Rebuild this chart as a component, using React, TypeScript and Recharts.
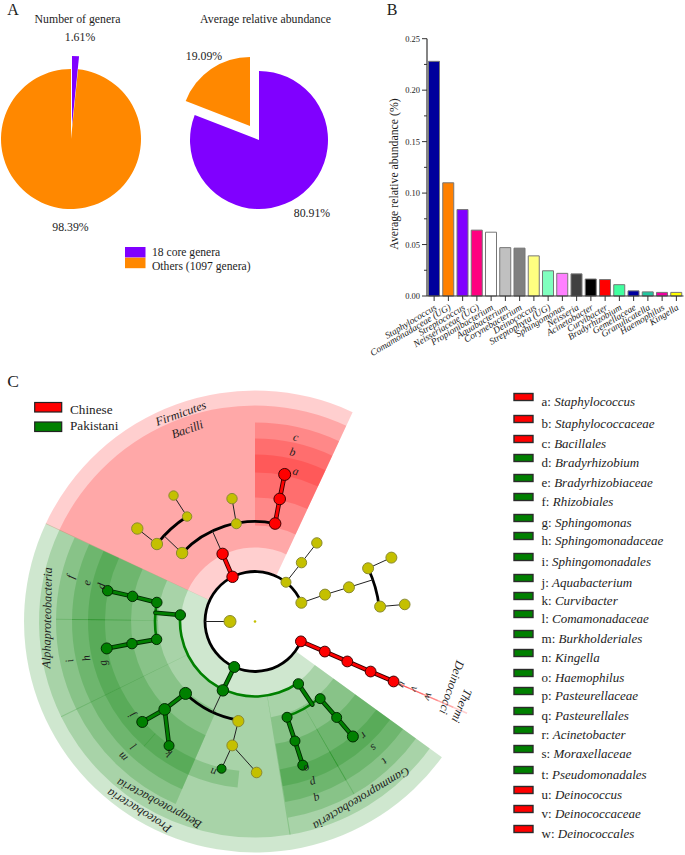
import React from "react";
import {
  BarChart, Bar, XAxis, YAxis, Cell, PieChart, Pie, ScatterChart, Scatter,
} from "recharts";

const W = 685;
const H = 855;
const SERIF = "'Liberation Serif', serif";
const INK = "#1d1d1d";

// ---------- Panel A ----------
const pieNames = ["18 core genera", "Others (1097 genera)"];
const pieColors = ["#8000ff", "#ff8800"];
const generaShare = [1.61, 98.39];
const abundanceShare = [80.91, 19.09];

// ---------- Panel B ----------
const genera = [
  "Staphylococcus", "Comamonadaceae (UG)", "Streptococcus", "Neisseriaceae (UG)",
  "Propionibacterium", "Aquabacterium", "Corynebacterium", "Deinococcus",
  "Streptophyta (UG)", "Sphingomonas", "Neisseria", "Acinetobacter", "Curvibacter",
  "Bradyrhizobium", "Gemellaceae", "Granulicatella", "Haemophilus", "Kingella",
];
const abundance = [
  0.228, 0.11, 0.084, 0.064, 0.062, 0.047, 0.0465, 0.039, 0.0245, 0.022, 0.0215,
  0.0165, 0.016, 0.011, 0.005, 0.004, 0.0035, 0.0035,
];
const barColors = [
  "#00009c", "#ff8000", "#8000ff", "#ff0080", "#ffffff", "#c0c0c0", "#808080", "#ffff80",
  "#80ffbf", "#ff80ff", "#404040", "#000000", "#ff0000", "#40ff9f", "#0000a0", "#20c8a0",
  "#f000a0", "#ffff00",
];
const yTicks = [0, 0.025, 0.05, 0.075, 0.1, 0.125, 0.15, 0.175, 0.2, 0.225, 0.25];
const yMajor = [0, 0.05, 0.1, 0.15, 0.2, 0.25];

// ---------- Panel C: shaded clades [startDeg, endDeg, innerR, outerR], clockwise from north ----------
const redClades = [
  [-65, 25, 51, 231], // Firmicutes
  [-65, 25, 74, 216], // Bacilli
  [0, 25, 96, 199], // Bacillales
  [0, 25, 124, 183], // Staphylococcaceae
  [0, 25, 149, 167], // Staphylococcus
  [113.2, 113.6, 151, 231], // Thermi
  [113.2, 113.6, 151, 216], // Deinococci
  [113.2, 113.6, 151, 199], // Deinococcales
  [113.2, 113.6, 151, 183], // Deinococcaceae
  [113.2, 113.6, 151, 167], // Deinococcus
];
const greenClades = [
  [126, 295.2, 51, 231], // Proteobacteria
  [243.7, 295, 74, 216], // Alphaproteobacteria
  [170.5, 244, 74, 216], // Betaproteobacteria
  [126, 170.8, 74, 216], // Gammaproteobacteria
  [270.5, 295, 97, 199], // Rhizobiales
  [270.5, 295, 124, 183], // Bradyrhizobiaceae
  [270.5, 295, 150, 167], // Bradyrhizobium
  [244, 270.8, 97, 199], // Sphingomonadales
  [244, 270.8, 124, 183], // Sphingomonadaceae
  [244, 270.8, 150, 167], // Sphingomonas
  [203.5, 244, 97, 199], // Burkholderiales
  [203.5, 244, 124, 183], // Comamonadaceae
  [221.5, 244, 150, 167], // Aquabacterium
  [203.5, 221.8, 150, 167], // Curvibacter
  [186, 203.5, 150, 167], // Kingella
  [150, 170.5, 97, 199], // Pasteurellales
  [150, 170.5, 124, 183], // Pasteurellaceae
  [150, 170.5, 150, 167], // Haemophilus
  [126, 150.3, 97, 199], // Pseudomonadales
  [126, 150.3, 124, 183], // Moraxellaceae
  [126, 150.3, 150, 167], // Acinetobacter
];
// arcs of the tree: [startDeg, endDeg, radius]
const blackArcs = [
  [113.4, 428, 50],
  [189.5, 224, 100],
  [313.2, 371.6, 100],
  [308.3, 327.1, 125],
  [64.8, 83.2, 125],
];
const greenArcs = [
  [145.2, 275, 75],
  [259.7, 281, 100],
  [139.8, 161.5, 100],
];
// tree nodes: [deg, radius, dotRadius]
const yellowNodes = [
  [349.2, 99.5, 5], [349.4, 125, 5.2], [313.2, 100, 5.7], [308.3, 125, 5.7], [327.1, 125, 4.7],
  [308.3, 150, 5.7], [327.1, 150, 4.7], [38.3, 50, 5], [38.3, 75, 5.2], [38.2, 100, 5.2],
  [68, 50, 5.5], [69, 75, 5.5], [70, 100, 5.5], [64.8, 125, 5.5], [83.2, 126, 5.5],
  [64.9, 150.6, 5.5], [83.5, 150.7, 5.3], [270, 25, 6], [0, 0, 1.3], [189.5, 101, 5.6],
  [190.4, 126, 5.4], [179.4, 151, 5.3],
];
const redNodes = [
  [333.3, 50, 5.7], [334.4, 75, 5.7], [11.6, 100, 5.8], [11.4, 125, 5.8], [11.4, 150, 6],
  [113.4, 50, 5.4], [113.3, 76, 5.4], [113.4, 100.6, 5.4], [113.4, 126, 5.4], [113.4, 151, 5.4],
];
const greenNodes = [
  [204.5, 50, 5.5], [205, 76, 5.7], [275, 75, 5.2], [281, 100, 5.2], [281.6, 125, 5.2],
  [281.8, 150.5, 5.2], [259.7, 100, 5.2], [259.8, 125, 5.2], [259.7, 150.7, 5.5], [224, 100, 6],
  [225.8, 126, 5.8], [228.3, 151, 5.5], [214.7, 151, 5], [192.8, 151, 4.5], [145.2, 76, 5.2],
  [161.5, 101, 5], [139.8, 101, 5], [161.5, 126, 5], [161.6, 151.4, 5], [139.6, 126, 5],
  [139.6, 151, 5.5],
];
// edges of the tree: chains of [deg, radius]
const thinEdges = [
  [[270, 50], [270, 25]],
  [[334.4, 75], [334.8, 100]],
  [[349.2, 99.5], [349.4, 125]],
  [[313.2, 100], [313.3, 125]],
  [[308.3, 125], [308.3, 150]],
  [[327.1, 125], [327.1, 150]],
  [[38.3, 50], [38.3, 75], [38.2, 100]],
  [[68, 50], [69, 75], [70, 100], [70.5, 125]],
  [[64.8, 125], [64.9, 150.6]],
  [[83.2, 126], [83.5, 150.7]],
  [[205, 76], [205, 100]],
  [[189.5, 101], [190.4, 126], [192.8, 151]],
  [[190.4, 126], [179.4, 151]],
];
const redEdges = [
  [[333.3, 50], [334.4, 75]],
  [[11.6, 100], [11.4, 125], [11.4, 150]],
  [[113.4, 50], [113.3, 76], [113.4, 100.6], [113.4, 126], [113.4, 151]],
];
const greenEdges = [
  [[204.5, 50], [205, 76]],
  [[275, 75], [275, 100]],
  [[281, 100], [281.6, 125], [281.8, 150.5]],
  [[259.7, 100], [259.8, 125], [259.7, 150.7]],
  [[224, 100], [225.8, 126], [228.3, 151]],
  [[225.8, 126], [214.7, 151]],
  [[145.2, 76], [145.4, 101]],
  [[161.5, 101], [161.5, 126], [161.6, 151.4]],
  [[139.8, 101], [139.6, 126], [139.6, 151]],
];
// single-letter clade labels: [text, deg, radius]
const cladeLetters = [
  ["a", 15.2, 156], ["b", 12.5, 174], ["c", 12.5, 189], ["d", 283, 158], ["e", 283, 173],
  ["f", 283.6, 190], ["g", 254.7, 158], ["h", 257.7, 173], ["i", 258, 190], ["j", 232.9, 155.5],
  ["k", 213.2, 158], ["l", 224.2, 174.6], ["m", 224.3, 189.6], ["n", 195.5, 156.5],
  ["o", 160.6, 156.4], ["p", 160.2, 171.6], ["q", 160.7, 188], ["r", 136.4, 158],
  ["s", 136.7, 173.7], ["t", 137.2, 191], ["u", 113.3, 160.8], ["v", 112.9, 173.7], ["w", 113.4, 189.6],
];
const cladeNames = [
  ["Firmicutes", 340.4, 221], ["Bacilli", 340.6, 203.7], ["Alphaproteobacteria", 271, 208],
  ["Proteobacteria", 211.5, 222], ["Betaproteobacteria", 207.8, 206],
  ["Gammaproteobacteria", 149, 206.6], ["Deinococci", 108.5, 207.4], ["Thermi", 112.2, 223.3],
];
const groupNames = ["Chinese", "Pakistani"];
const groupColors = ["#ff0000", "#008000"];
const taxa = [
  "Staphylococcus", "Staphylococcaceae", "Bacillales", "Bradyrhizobium", "Bradyrhizobiaceae",
  "Rhizobiales", "Sphingomonas", "Sphingomonadaceae", "Sphingomonadales", "Aquabacterium",
  "Curvibacter", "Comamonadaceae", "Burkholderiales", "Kingella", "Haemophilus", "Pasteurellaceae",
  "Pasteurellales", "Acinetobacter", "Moraxellaceae", "Pseudomonadales", "Deinococcus",
  "Deinococcaceae", "Deinococcales",
];
const taxaGroup = [0, 0, 0, 1, 1, 1, 1, 1, 1, 1, 1, 1, 1, 1, 1, 1, 1, 1, 1, 1, 0, 0, 0];
const letters = "abcdefghijklmnopqrstuvw".split("");
const taxaRowY = [
  397, 419, 439, 458, 478, 497, 518, 536, 557, 578, 596, 614, 634, 653, 673, 691, 711, 730, 749,
  770, 790, 809, 829,
];

// ---------- geometry of panel C ----------
const CX = 255;
const CY = 621.5;
const polar = (deg: number, r: number) => ({
  x: CX + r * Math.sin((deg * Math.PI) / 180),
  y: CY - r * Math.cos((deg * Math.PI) / 180),
});
const chain = (pts: number[][]) => pts.map(([a, r]) => polar(a, r));
const dots = (rows: number[][]) => rows.map(([a, r, d]) => ({ ...polar(a, r), d }));
const one = [{ value: 1 }];

function sectorPie(key: string, a0: number, a1: number, r0: number, r1: number, fill: string) {
  return (
    <Pie
      key={key}
      data={one}
      dataKey="value"
      cx={CX}
      cy={CY}
      startAngle={90 - a0}
      endAngle={90 - a1}
      innerRadius={r0}
      outerRadius={r1}
      fill={fill}
      stroke="none"
      legendType="none"
      isAnimationActive={false}
    />
  );
}

const noShape = () => <g />;

function edgeSeries(key: string, lists: number[][][], stroke: string, width: number) {
  return lists.map((pts, i) => (
    <Scatter
      key={key + i}
      data={chain(pts)}
      line={{ stroke, strokeWidth: width, strokeLinecap: "round" }}
      shape={noShape}
      isAnimationActive={false}
    />
  ));
}

function nodeSeries(rows: number[][], fill: string, stroke: string) {
  return (
    <Scatter
      data={dots(rows)}
      isAnimationActive={false}
      shape={(p: any) => (
        <circle
          cx={p.cx}
          cy={p.cy}
          r={p.payload.d}
          fill={fill}
          stroke={p.payload.d < 2 ? "none" : stroke}
          strokeWidth={1}
        />
      )}
    />
  );
}

function AbundancePie({ width, cx, cy, r, shifted, dx, dy, values }: any) {
  const data = values.map((value: number, i: number) => ({ name: pieNames[i], value }));
  const series = [0, 1].map((i) => {
    const off = i === shifted;
    return (
      <Pie
        key={i}
        data={data}
        dataKey="value"
        cx={off ? cx + dx : cx}
        cy={off ? cy + dy : cy}
        innerRadius={0}
        outerRadius={r}
        startAngle={90}
        endAngle={-270}
        stroke="none"
        legendType="none"
        isAnimationActive={false}
      >
        {data.map((_: any, j: number) => (
          <Cell key={j} fill={j === i ? pieColors[j] : "transparent"} />
        ))}
      </Pie>
    );
  });
  return (
    <PieChart width={width} height={240} margin={{ top: 0, right: 0, bottom: 0, left: 0 }}>
      {series}
    </PieChart>
  );
}

const PLOT_LEFT = 427;
const PLOT_BOTTOM = 296;
const PLOT_TOP = 38.7;
const layer: React.CSSProperties = { position: "absolute", left: 0, top: 0 };

function YTick({ x, y, payload }: any) {
  const major = yMajor.includes(payload.value);
  return (
    <g>
      <line x1={PLOT_LEFT} x2={PLOT_LEFT - (major ? 5 : 3)} y1={y} y2={y} stroke="#333" strokeWidth={1} />
      {major && (
        <text x={PLOT_LEFT - 7} y={y + 3} textAnchor="end" fontFamily={SERIF} fontSize={8.5} fill={INK}>
          {payload.value.toFixed(2)}
        </text>
      )}
    </g>
  );
}

function XTick({ x, payload }: any) {
  const ty = PLOT_BOTTOM + 13;
  const tx = x + 3;
  return (
    <g>
      <line x1={x} x2={x} y1={PLOT_BOTTOM} y2={PLOT_BOTTOM + 5} stroke="#333" strokeWidth={1} />
      <text
        x={tx}
        y={ty}
        textAnchor="end"
        transform={`rotate(-31 ${tx} ${ty})`}
        fontFamily={SERIF}
        fontStyle="italic"
        fontSize={9.4}
        fill={INK}
      >
        {payload.value}
      </text>
    </g>
  );
}

function T({ x, y, size = 11.8, anchor = "middle", italic, children }: any) {
  return (
    <text
      x={x}
      y={y}
      textAnchor={anchor}
      fontFamily={SERIF}
      fontSize={size}
      fontStyle={italic ? "italic" : undefined}
      fill={INK}
    >
      {children}
    </text>
  );
}

function Polar({ deg, r, size, children }: any) {
  const p = polar(deg, r);
  return (
    <text
      x={p.x}
      y={p.y}
      textAnchor="middle"
      dominantBaseline="central"
      transform={`rotate(${deg} ${p.x} ${p.y})`}
      fontFamily={SERIF}
      fontStyle="italic"
      fontSize={size}
      fill={INK}
    >
      {children}
    </text>
  );
}

export default function App() {
  const barData = genera.map((name, i) => ({ name, value: abundance[i] }));
  return (
    <div style={{ position: "absolute", left: 0, top: 0, width: W, height: H, overflow: "hidden", background: "#fff" }}>
      {/* Panel A */}
      <div style={layer}>
        <AbundancePie width={160} cx={71} cy={139} r={70} shifted={0} dx={1} dy={-13} values={generaShare} />
      </div>
      <div style={layer}>
        <AbundancePie width={350} cx={259} cy={140} r={69} shifted={1} dx={-9} dy={-14} values={abundanceShare} />
      </div>

      {/* Panel B */}
      <div style={layer}>
        <BarChart
          width={W}
          height={H}
          data={barData}
          barCategoryGap={1.5}
          margin={{ top: PLOT_TOP, right: 1.5, bottom: H - PLOT_BOTTOM - 60, left: PLOT_LEFT - 50 }}
        >
          <XAxis
            dataKey="name"
            interval={0}
            height={60}
            tick={<XTick />}
            tickLine={false}
            tickSize={0}
            axisLine={{ stroke: "#333", strokeWidth: 1.2 }}
          />
          <YAxis
            width={50}
            type="number"
            domain={[0, 0.25]}
            ticks={yTicks}
            interval={0}
            tick={<YTick />}
            tickLine={false}
            tickSize={0}
            axisLine={{ stroke: "#333", strokeWidth: 1.2 }}
          />
          <Bar dataKey="value" stroke="#777" strokeWidth={1} isAnimationActive={false}>
            {barData.map((_, i) => (
              <Cell key={i} fill={barColors[i]} />
            ))}
          </Bar>
        </BarChart>
      </div>

      {/* Panel C: shaded clades and tree arcs */}
      <div style={layer}>
        <PieChart width={W} height={H} margin={{ top: 0, right: 0, bottom: 0, left: 0 }}>
          {redClades.map(([a, b, r0, r1], i) => sectorPie("r" + i, a, b, r0, r1, "rgba(255,0,0,0.19)"))}
          {greenClades.map(([a, b, r0, r1], i) => sectorPie("g" + i, a, b, r0, r1, "rgba(0,128,0,0.19)"))}
          {blackArcs.map(([a, b, r], i) => sectorPie("ba" + i, a, b, r - 1.4, r + 1.4, "#000"))}
          {greenArcs.map(([a, b, r], i) => sectorPie("ga" + i, a, b, r - 1.3, r + 1.3, "#008000"))}
        </PieChart>
      </div>

      {/* Panel C: tree edges and nodes */}
      <div style={layer}>
        <ScatterChart width={W} height={H} margin={{ top: 0, right: 0, bottom: 0, left: 0 }}>
          <XAxis type="number" dataKey="x" domain={[0, W]} hide />
          <YAxis type="number" dataKey="y" domain={[0, H]} reversed hide />
          {edgeSeries("thin", thinEdges, "#222", 1)}
          {edgeSeries("ro", redEdges, "#300", 4.6)}
          {edgeSeries("rc", redEdges, "#ff0000", 2.8)}
          {edgeSeries("go", greenEdges, "#012b01", 4.6)}
          {edgeSeries("gc", greenEdges, "#008000", 2.8)}
          {nodeSeries(yellowNodes, "#c4c000", "#8a8a30")}
          {nodeSeries(redNodes, "#ff0000", "#400000")}
          {nodeSeries(greenNodes, "#008000", "#012b01")}
        </ScatterChart>
      </div>

      {/* Text, panel letters, legends */}
      <svg width={W} height={H} style={layer}>
        <T x={13} y={14.5} size={16}>A</T>
        <T x={392} y={14.5} size={16}>B</T>
        <T x={13} y={387} size={17.5}>C</T>

        <T x={77.5} y={23}>Number of genera</T>
        <T x={265.5} y={23}>Average relative abundance</T>
        <T x={80} y={41}>1.61%</T>
        <T x={70.5} y={231}>98.39%</T>
        <T x={204} y={60}>19.09%</T>
        <T x={312} y={217}>80.91%</T>
        {pieNames.map((name, i) => (
          <g key={name}>
            <rect x={125} y={247 + i * 10.7} width={20.5} height={10.5} fill={pieColors[i]} />
            <T x={152} y={255.5 + i * 14.5} anchor="start" size={11.6}>{name}</T>
          </g>
        ))}

        <text
          x={394}
          y={174}
          transform="rotate(-90 394 174)"
          textAnchor="middle"
          dominantBaseline="central"
          fontFamily={SERIF}
          fontSize={11.8}
          fill={INK}
        >
          Average relative abundance (%)
        </text>

        {groupNames.map((name, i) => (
          <g key={name}>
            <rect x={34.7} y={402.5 + i * 19.5} width={27} height={9.5} fill={groupColors[i]} stroke="#222" strokeWidth={1.2} />
            <T x={70} y={[413.5, 429.5][i]} anchor="start" size={13.2}>{name}</T>
          </g>
        ))}

        {cladeLetters.map(([t, a, r]) => (
          <Polar key={t as string} deg={a} r={r} size={11.5}>{t}</Polar>
        ))}
        {cladeNames.map(([t, a, r]) => (
          <Polar key={t as string} deg={a} r={r} size={12.2}>{t}</Polar>
        ))}

        {taxa.map((name, i) => (
          <g key={name}>
            <rect
              x={514}
              y={taxaRowY[i] - 3.5}
              width={19}
              height={7}
              fill={groupColors[taxaGroup[i]]}
              stroke="#2b2b2b"
              strokeWidth={1.4}
            />
            <text x={541.5} y={taxaRowY[i] + 8.5} fontFamily={SERIF} fontSize={13} fill={INK}>
              {letters[i]}: <tspan fontStyle="italic">{name}</tspan>
            </text>
          </g>
        ))}
      </svg>
    </div>
  );
}
